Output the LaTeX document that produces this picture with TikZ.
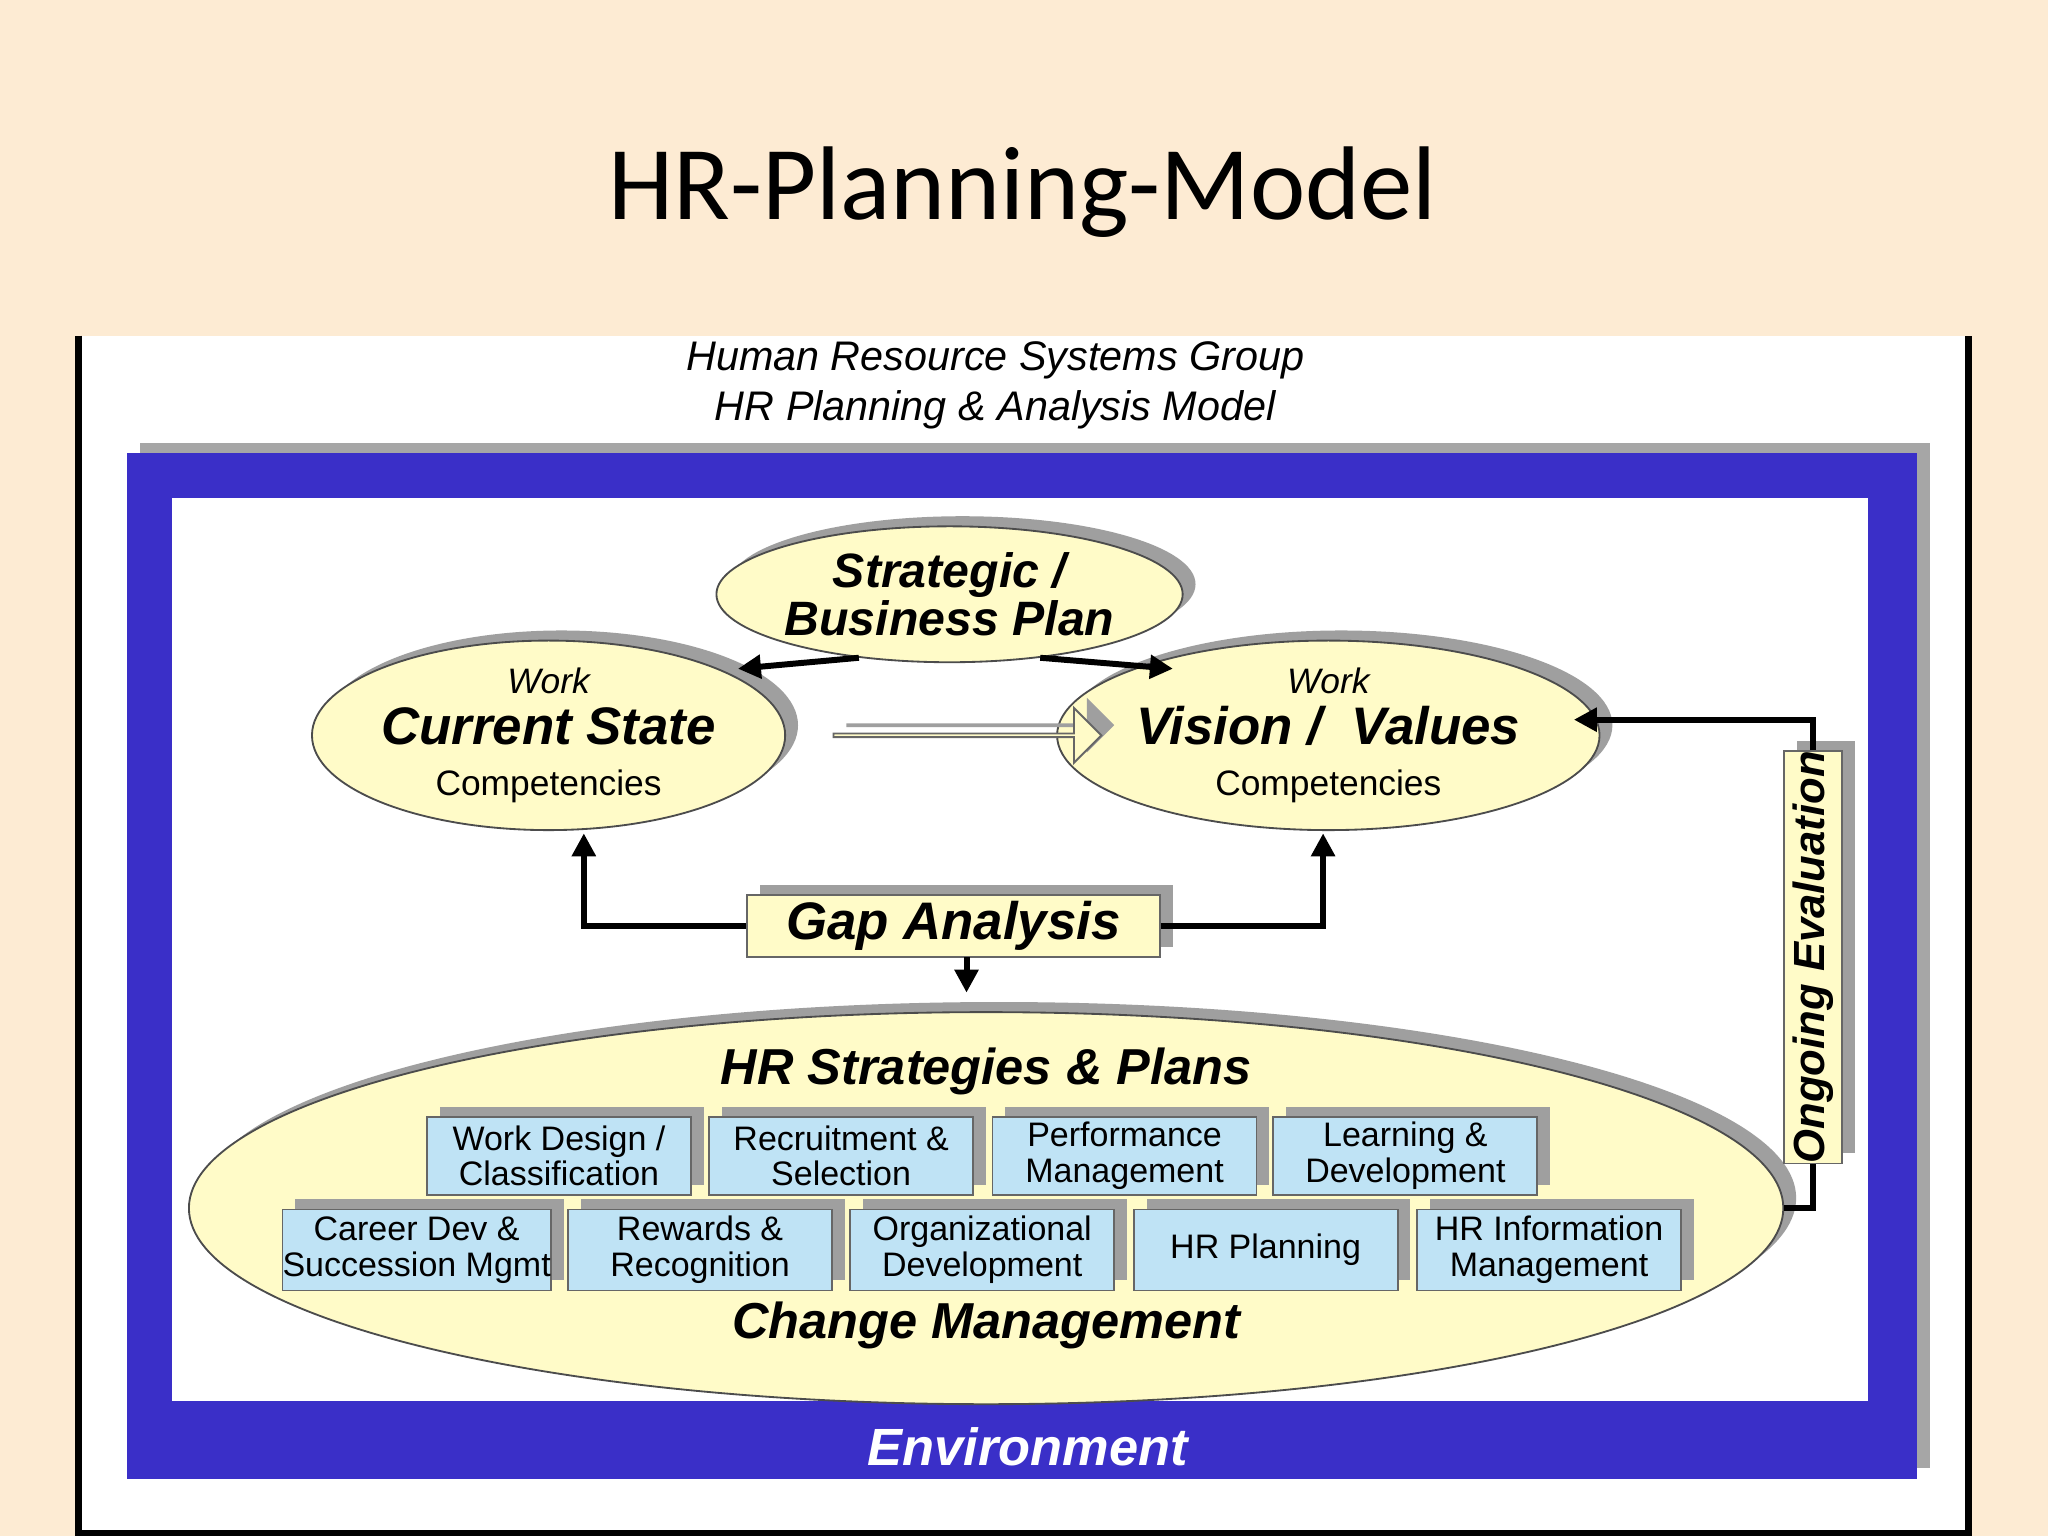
\documentclass[tikz,border=0pt]{standalone}
\usepackage{fontspec}
\setmainfont{Liberation Sans}
\newfontfamily\titlefont{Carlito}
\usetikzlibrary{shapes.geometric,shadows,arrows.meta,shapes.arrows}
\definecolor{peach}{HTML}{FDEBD3}
\definecolor{envblue}{HTML}{3A2FC8}
\definecolor{lyellow}{HTML}{FFFBC8}
\definecolor{lblue}{HTML}{BFE3F5}
\newcommand{\fs}[1]{\fontsize{#1}{#1}\selectfont}
\tikzset{
 shad/.style={drop shadow={shadow xshift=2.8pt,shadow yshift=2.2pt,fill=gray!75,opacity=1}},
 ell/.style={ellipse,draw=black!70,fill=lyellow,shad,inner sep=0pt,align=center},
 hrbox/.style={draw=black!60,fill=lblue,shad,minimum width=2.02cm,minimum height=0.6cm,align=center,inner sep=0pt,font=\fs{7.4pt}\linespread{1.05}\selectfont},
 arr/.style={-{Triangle[length=5pt,width=5pt]},line width=1.3pt},
 con/.style={line width=1.3pt}
}
\begin{document}
\begin{tikzpicture}[x=0.01cm,y=-0.01cm]
\useasboundingbox (0,0) rectangle (1568,1176);
\fill[peach] (0,0) rectangle (1568,1176);
\node[font=\titlefont\fs{22.8pt}] (title) at (783,147) {HR-Planning-Model};
\fill[white] (60,257) rectangle (1507,1176);
\draw[line width=1.5pt] (60,257) -- (60,1174) -- (1507,1174) -- (1507,257);
\node[font=\itshape\fs{9pt},align=center] (sub) at (762,295) {Human Resource Systems Group\\[2pt]HR Planning \& Analysis Model};
% environment frame
\fill[gray!70] (107,339) rectangle (1478,1124);
\fill[envblue] (97,347) rectangle (1468,1132);
\fill[white] (132,381) rectangle (1430,1073);
\node[text=white,font=\bfseries\itshape\fs{11.4pt}] (env) at (787,1108) {Environment};
% ellipses
\node[ell,minimum width=3.2cm,minimum height=1.04cm,font=\bfseries\itshape\fs{10.5pt}] (sbp) at (727,455) {Strategic /\\Business Plan};
\node[ell,minimum width=3.3cm,minimum height=1.36cm] (cur) at (420,563) {{\itshape\fs{7.7pt}Work}\\[-1pt]{\bfseries\itshape\fs{11.5pt}Current State}\\[-1pt]{\fs{7.7pt}Competencies}};
\node[ell,minimum width=3.3cm,minimum height=1.36cm] (vis) at (1017,563) {{\itshape\fs{7.7pt}Work}\\[-1pt]{\bfseries\itshape\fs{11.5pt}Vision /\ \ Values}\\[-1pt]{\fs{7.7pt}Competencies}};
\node[ell,minimum width=12.2cm,minimum height=3.0cm] (hr) at (755,925) {};
\node[font=\bfseries\itshape\fs{11pt}] (hrt) at (755,820) {HR Strategies \& Plans};
\node[font=\bfseries\itshape\fs{11pt}] (cm) at (755,1015) {Change Management};
% hollow arrow
\node[single arrow,draw=black!60,fill=lyellow,minimum height=2.05cm,minimum width=0.42cm,single arrow head extend=0.1cm,inner sep=0pt,shad] (ha) at (740,563) {};
% arrows from strategic
\draw[arr] (sbp.215) -- (565,512);
\draw[arr] (sbp.325) -- (898,512);
% gap analysis
\node[draw=black!60,fill=lyellow,shad,minimum width=3.16cm,minimum height=0.48cm,inner sep=0pt,font=\bfseries\itshape\fs{11.5pt}] (gap) at (730,709) {Gap Analysis};
\draw[arr] (gap.west) -| (447,638);
\draw[arr] (gap.east) -| (1013,638);
\draw[arr] (740,733) -- (740,760);
% ongoing evaluation
\node[draw=black!60,fill=lyellow,shad,minimum width=2.9cm,minimum height=0.44cm,inner sep=0pt,rotate=90,font=\bfseries\itshape\fs{9.5pt}] (oe) at (1388,733) {Ongoing Evaluation};
\draw[con] (hr.east) -| (oe.west);
\draw[arr] (oe.east) |- (1205,551);
% HR boxes
\node[hrbox] (b1) at (428,885) {Work Design /\\Classification};
\node[hrbox] (b2) at (644,885) {Recruitment \&\\Selection};
\node[hrbox] (b3) at (861,885) {Performance\\Management};
\node[hrbox] (b4) at (1076,885) {Learning \&\\Development};
\node[hrbox,minimum height=0.62cm] (c1) at (319,957) {Career Dev \&\\Succession Mgmt};
\node[hrbox,minimum height=0.62cm] (c2) at (536,957) {Rewards \&\\Recognition};
\node[hrbox,minimum height=0.62cm] (c3) at (752,957) {Organizational\\Development};
\node[hrbox,minimum height=0.62cm] (c4) at (969,957) {HR Planning};
\node[hrbox,minimum height=0.62cm] (c5) at (1186,957) {HR Information\\Management};
\end{tikzpicture}
\end{document}
